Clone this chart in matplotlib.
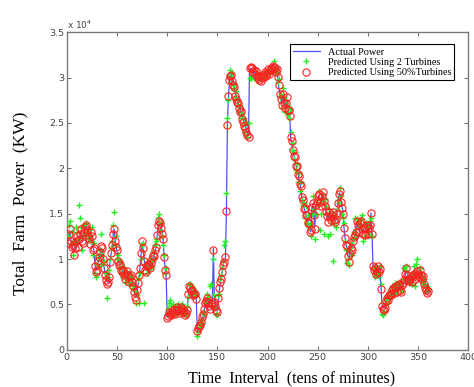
import numpy as np
import matplotlib
matplotlib.use("Agg")
import matplotlib.pyplot as plt
from matplotlib.ticker import FuncFormatter, MultipleLocator

# values in units of 10^4 kW, time index 1..360
actual = [
1.20,1.25,1.30,1.22,1.15,1.12,1.08,1.10,1.18,1.22,
1.15,1.20,1.26,1.30,1.24,1.20,1.28,1.33,1.36,1.35,
1.30,1.25,1.20,1.28,1.22,1.13,1.10,0.95,0.88,0.90,
0.95,1.00,1.05,1.12,1.10,1.02,0.92,0.85,0.80,0.76,
0.74,0.82,0.95,1.05,1.12,1.25,1.33,1.22,1.15,1.08,
1.00,0.96,0.93,0.90,0.88,0.86,0.84,0.80,0.82,0.85,
0.80,0.77,0.78,0.80,0.77,0.72,0.66,0.60,0.58,0.64,
0.72,0.80,0.92,1.05,1.18,1.10,1.00,0.90,0.88,0.90,
0.93,0.95,0.92,0.94,0.98,1.02,1.05,1.08,1.15,1.25,
1.35,1.40,1.38,1.36,1.30,1.20,1.00,0.90,0.80,0.36,
0.38,0.40,0.42,0.40,0.41,0.43,0.44,0.42,0.43,0.45,
0.46,0.44,0.43,0.45,0.47,0.44,0.42,0.40,0.42,0.45,
0.60,0.68,0.70,0.66,0.64,0.62,0.63,0.60,0.55,0.20,
0.22,0.25,0.28,0.30,0.34,0.38,0.44,0.50,0.55,0.58,
0.55,0.50,0.47,0.48,0.52,1.12,0.55,0.50,0.45,0.43,
0.55,0.66,0.74,0.80,0.88,0.95,0.98,1.00,1.54,2.50,
2.79,2.95,3.00,3.05,2.98,2.94,2.88,2.83,2.78,2.75,
2.70,2.68,2.64,2.61,2.56,2.53,2.49,2.46,2.42,2.39,
2.37,3.08,3.10,3.09,3.08,3.07,3.05,3.06,3.04,3.02,
3.00,3.01,2.98,2.99,3.02,3.03,3.05,3.04,3.06,3.08,
3.06,3.07,3.09,3.10,3.12,3.15,3.10,3.08,3.10,3.03,
2.90,2.84,2.78,2.72,2.80,2.74,2.68,2.70,2.75,2.66,
2.62,2.60,2.33,2.28,2.22,2.15,2.10,2.05,2.00,1.96,
1.90,1.85,1.78,1.70,1.63,1.57,1.54,1.50,1.47,1.42,
1.38,1.32,1.30,1.55,1.60,1.50,1.35,1.58,1.62,1.68,
1.70,1.65,1.60,1.68,1.72,1.66,1.60,1.55,1.45,1.43,
1.50,1.48,1.45,1.47,1.50,1.45,1.43,1.42,1.48,1.60,
1.70,1.73,1.65,1.58,1.52,1.36,1.25,1.18,1.12,1.05,
0.99,1.05,1.10,1.12,1.18,1.22,1.25,1.32,1.40,1.36,
1.32,1.38,1.40,1.35,1.30,1.32,1.29,1.33,1.36,1.30,
1.32,1.35,1.51,1.30,0.94,0.90,0.88,0.86,0.88,0.90,
0.88,0.87,0.69,0.50,0.47,0.46,0.48,0.52,0.55,0.57,
0.58,0.60,0.62,0.64,0.66,0.65,0.67,0.68,0.66,0.69,
0.70,0.68,0.66,0.69,0.72,0.75,0.82,0.88,0.84,0.80,
0.78,0.76,0.78,0.77,0.80,0.82,0.80,0.83,0.85,0.84,
0.82,0.86,0.84,0.80,0.79,0.75,0.70,0.68,0.65,0.63]

pred_50pct = [
1.18,1.28,1.33,1.20,1.13,1.15,1.05,1.12,1.20,1.25,
1.13,1.22,1.28,1.33,1.20,1.18,1.30,1.35,1.38,1.32,
1.27,1.22,1.17,1.30,1.25,1.10,1.12,0.92,0.86,0.88,
0.98,1.02,1.08,1.14,1.12,1.00,0.90,0.82,0.77,0.73,
0.75,0.80,0.97,1.07,1.15,1.28,1.33,1.20,1.13,1.10,
0.98,0.94,0.95,0.88,0.86,0.88,0.82,0.78,0.84,0.87,
0.82,0.75,0.80,0.82,0.75,0.70,0.64,0.58,0.55,0.66,
0.74,0.82,0.90,1.07,1.20,1.12,0.98,0.88,0.86,0.92,
0.95,0.93,0.90,0.96,1.00,1.04,1.03,1.10,1.13,1.27,
1.38,1.42,1.40,1.34,1.28,1.22,1.02,0.88,0.82,0.35,
0.37,0.42,0.40,0.38,0.43,0.41,0.45,0.40,0.44,0.47,
0.44,0.45,0.41,0.47,0.45,0.42,0.43,0.38,0.41,0.44,
0.62,0.70,0.68,0.65,0.66,0.60,0.61,0.62,0.56,0.21,
0.24,0.26,0.27,0.31,0.36,0.40,0.45,0.52,0.54,0.57,
0.53,0.48,0.45,0.50,0.50,1.10,0.53,0.48,0.44,0.42,
0.57,0.68,0.75,0.78,0.86,0.93,0.97,1.02,1.53,2.48,
2.80,2.97,3.02,3.03,2.96,2.92,2.90,2.80,2.76,2.73,
2.72,2.66,2.62,2.63,2.54,2.51,2.47,2.44,2.40,2.37,
2.35,3.10,3.12,3.10,3.06,3.08,3.04,3.07,3.02,3.00,
2.97,3.02,2.96,3.00,3.03,3.01,3.06,3.02,3.05,3.09,
3.04,3.08,3.10,3.08,3.13,3.12,3.11,3.06,3.09,3.01,
2.92,2.82,2.76,2.70,2.82,2.72,2.66,2.72,2.78,2.64,
2.64,2.58,2.35,2.30,2.20,2.13,2.12,2.03,2.02,1.94,
1.92,1.83,1.80,1.68,1.65,1.55,1.56,1.48,1.49,1.40,
1.40,1.30,1.32,1.57,1.62,1.48,1.33,1.60,1.64,1.70,
1.72,1.63,1.58,1.70,1.74,1.64,1.58,1.53,1.47,1.41,
1.52,1.46,1.43,1.49,1.52,1.43,1.41,1.44,1.50,1.62,
1.72,1.75,1.63,1.56,1.50,1.34,1.23,1.16,1.14,1.03,
0.97,1.07,1.12,1.10,1.20,1.24,1.27,1.30,1.42,1.38,
1.30,1.40,1.42,1.33,1.28,1.34,1.27,1.35,1.38,1.28,
1.34,1.37,1.51,1.28,0.92,0.88,0.90,0.84,0.86,0.92,
0.86,0.89,0.67,0.48,0.45,0.44,0.46,0.54,0.57,0.55,
0.60,0.62,0.60,0.66,0.68,0.63,0.69,0.70,0.64,0.71,
0.72,0.66,0.64,0.71,0.74,0.77,0.84,0.90,0.82,0.78,
0.76,0.78,0.80,0.75,0.82,0.84,0.78,0.85,0.87,0.82,
0.80,0.88,0.82,0.78,0.81,0.73,0.68,0.66,0.63,0.65]

pred_2turb = [
1.25,1.38,1.42,1.15,1.30,1.05,1.20,1.18,1.35,1.30,
1.22,1.60,1.45,1.35,1.10,1.25,1.38,1.28,1.40,1.30,
1.22,1.32,1.25,1.20,1.35,1.05,1.18,0.85,0.80,0.95,
1.02,0.92,1.10,1.28,1.05,0.95,0.98,0.80,0.85,0.57,
0.80,0.88,1.00,1.12,1.20,1.38,1.52,1.15,1.25,1.00,
1.05,0.90,0.98,0.85,0.92,0.80,0.90,0.75,0.86,0.78,
0.85,0.72,0.82,0.75,0.80,0.68,0.70,0.65,0.52,0.60,
0.78,0.52,0.85,1.00,1.15,1.18,0.52,0.95,0.92,0.85,
0.88,1.00,0.98,0.90,0.92,1.08,1.00,1.15,1.20,1.22,
1.45,1.50,1.32,1.40,1.25,1.15,1.05,0.85,0.90,0.40,
0.45,0.52,0.55,0.48,0.38,0.50,0.42,0.47,0.40,0.48,
0.50,0.42,0.46,0.40,0.50,0.48,0.39,0.44,0.38,0.48,
0.58,0.72,0.73,0.62,0.70,0.58,0.66,0.63,0.60,0.15,
0.20,0.28,0.25,0.33,0.30,0.42,0.40,0.55,0.52,0.62,
0.58,0.52,0.70,0.72,0.48,1.00,0.60,0.46,0.40,0.38,
0.60,0.62,0.78,0.82,0.90,0.98,1.15,1.20,1.73,2.55,
2.75,3.02,3.08,2.95,3.05,2.88,2.92,2.78,2.85,2.70,
2.75,2.62,2.70,2.55,2.60,2.48,2.55,2.40,2.50,2.34,
2.50,3.00,3.00,3.01,3.02,3.00,3.01,3.03,3.05,3.00,
3.02,3.04,3.00,3.02,3.05,3.00,3.02,3.06,3.04,3.08,
3.08,3.05,3.12,3.08,3.10,3.18,3.05,3.10,3.06,2.95,
2.98,2.78,2.82,2.66,2.88,2.78,2.62,2.75,2.70,2.60,
2.55,2.65,2.40,2.20,2.28,2.10,2.18,1.98,2.05,1.85,
1.95,1.75,1.85,1.65,1.60,1.62,1.45,1.58,1.40,1.48,
1.35,1.38,1.25,1.50,1.70,1.55,1.22,1.50,1.65,1.60,
1.75,1.32,1.50,1.72,1.64,1.28,1.66,1.58,1.50,1.25,
1.55,1.28,1.40,1.52,0.98,1.40,1.47,1.35,1.55,1.65,
1.62,1.78,1.70,1.50,1.45,1.40,1.20,1.10,0.96,1.00,
0.93,1.12,1.18,1.05,1.22,1.30,1.45,1.25,1.44,1.42,
1.40,1.35,1.44,1.48,1.20,1.38,1.25,1.40,1.30,1.35,
1.28,1.42,1.45,1.25,0.90,0.85,0.80,0.92,0.82,0.86,
0.80,0.92,0.72,0.40,0.38,0.42,0.50,0.56,0.58,0.52,
0.62,0.66,0.58,0.68,0.70,0.62,0.74,0.65,0.70,0.72,
0.75,0.66,0.70,0.65,0.78,0.90,0.88,0.92,0.80,0.76,
0.74,0.80,0.82,0.72,0.85,0.92,0.70,0.95,1.00,0.80,
0.86,0.90,0.76,0.82,0.72,0.78,0.72,0.65,0.70,0.68]

scale = 1e4
t = np.arange(1, len(actual) + 1)
a = np.array(actual) * scale
r = np.array(pred_50pct) * scale
g = np.array(pred_2turb) * scale

fig = plt.figure(figsize=(4.74, 3.87), dpi=100)
ax = fig.add_axes([0.141, 0.096, 0.847, 0.821])

ax.plot(t, a, color='#5050f5', lw=0.9, label='Actual Power', zorder=2)
ax.plot(t, g, ls='none', marker='+', color='#22ee22', ms=5, mew=1.0,
        label='Predicted Using 2 Turbines', zorder=3)
ax.plot(t, r, ls='none', marker='o', mfc='none', mec='#ff2020', ms=5.2, mew=0.8,
        label='Predicted Using 50%Turbines', zorder=4)

ax.set_xlim(0, 400)
ax.set_ylim(0, 3.5e4)
ax.xaxis.set_major_locator(MultipleLocator(50))
ax.yaxis.set_major_locator(MultipleLocator(5000))
ax.yaxis.set_major_formatter(FuncFormatter(lambda v, p: '%g' % (v / scale)))
ax.tick_params(direction='in', top=True, right=True, length=3, width=0.6,
               labelsize=6.8, colors='#555555', labelcolor='#444444', pad=2)
for s in ax.spines.values():
    s.set_color('#7a7a7a')
    s.set_linewidth(1.0)

ax.text(0.0, 1.005, r'x 10$^4$', transform=ax.transAxes, fontsize=6.5,
        color='#444444', ha='left', va='bottom')

serif = ['Liberation Serif', 'DejaVu Serif']
ax.set_xlabel('Time  Interval  (tens of minutes)', family=serif, fontsize=11.5)
ax.xaxis.set_label_coords(0.56, -0.065, transform=ax.transAxes)
ax.set_ylabel('Total  Farm  Power  (KW)', family=serif, fontsize=12.5)
ax.yaxis.set_label_coords(-0.095, 0.46, transform=ax.transAxes)

leg = ax.legend(loc='upper right', prop={'family': serif, 'size': 7.4},
                fancybox=False, edgecolor='black', framealpha=1,
                handlelength=2.6, borderpad=0.3, labelspacing=0.12,
                bbox_to_anchor=(0.978, 0.978))
leg.get_frame().set_linewidth(0.8)

fig.savefig('out.png', dpi=100)
